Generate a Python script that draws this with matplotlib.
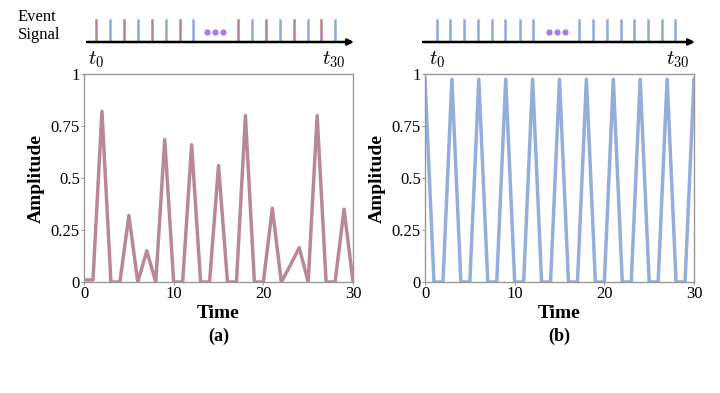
import numpy as np
import matplotlib.pyplot as plt

plt.rcParams['font.family'] = ['Liberation Serif', 'DejaVu Serif']
plt.rcParams['mathtext.fontset'] = 'cm'

# data
t = np.arange(0, 31)
amp_a = [0.01, 0.01, 0.82, 0, 0, 0.32, 0, 0.15, 0, 0.685, 0, 0, 0.66, 0, 0, 0.56,
         0, 0, 0.80, 0, 0, 0.355, 0, 0.08, 0.165, 0, 0.80, 0, 0, 0.35, 0]
amp_b = [0.975, 0, 0, 0.975, 0, 0, 0.975, 0, 0, 0.975, 0, 0, 0.975, 0, 0, 0.975,
         0, 0, 0.975, 0, 0, 0.975, 0, 0, 0.975, 0, 0, 0.975, 0, 0, 0.975]
yticks = [0, 0.25, 0.5, 0.75, 1]
yticklabels = ['0', '0.25', '0.5', '0.75', '1']
xticks = [0, 10, 20, 30]

# event marks (pixel positions in the schematic strip)
ev_a = [96, 110, 124, 138, 152, 166, 180, 193, 238, 252, 266, 280, 294, 308, 321, 335]
ev_b = [437, 450, 464, 478, 492, 505, 520, 533, 579, 593, 607, 621, 634, 648, 662, 675]

red = '#b48294'
blue = '#8eaad9'

fig = plt.figure(figsize=(7.2, 3.93), dpi=100)

def panel(left, y, col, label):
    ax = fig.add_axes([left, 0.2824, 0.3736, 0.5293])
    ax.plot(t, y, color=col, lw=2.5, alpha=0.95)
    ax.set_xlim(0, 30)
    ax.set_ylim(0, 1)
    ax.set_xticks(xticks)
    ax.set_yticks(yticks)
    ax.set_yticklabels(yticklabels)
    ax.tick_params(labelsize=12, length=2, width=0.6, color='#888888', pad=1)
    for s in ax.spines.values():
        s.set_color('#999999')
        s.set_linewidth(1.0)
    ax.set_xlabel('Time', fontsize=14, fontweight='bold', labelpad=2)
    ax.set_ylabel('Amplitude', fontsize=14, fontweight='bold', labelpad=4)
    ax.text(0.5, -0.22, label, transform=ax.transAxes, ha='center', va='top',
            fontsize=13, fontweight='bold')
    return ax

panel(0.1167, amp_a, red, '(a)')
panel(0.5903, amp_b, blue, '(b)')

# schematic strip on top
ov = fig.add_axes([0, 0, 1, 1], zorder=-1)
ov.set_xlim(0, 720)
ov.set_ylim(393, 0)
ov.axis('off')

for i, xp in enumerate(ev_a):
    ov.plot([xp, xp], [20, 41], color=red if i % 2 == 0 else blue, lw=1.8)
for xp in ev_b:
    ov.plot([xp, xp], [20, 41], color=blue, lw=1.8)

for x0, x1 in [(87, 354), (423, 695)]:
    ov.annotate('', xy=(x1, 42), xytext=(x0, 42),
                arrowprops=dict(arrowstyle='-|>', color='black', lw=1.8,
                                mutation_scale=9, shrinkA=0, shrinkB=0))

for xs in [(207, 215, 223), (549, 557, 565)]:
    ov.plot(xs, [32, 32, 32], 'o', color='#a77ee0', ms=3.5)

ov.text(88, 60, r'$t_0$', fontsize=15, ha='left', va='center')
ov.text(322, 60, r'$t_{30}$', fontsize=15, ha='left', va='center')
ov.text(429, 60, r'$t_0$', fontsize=15, ha='left', va='center')
ov.text(666, 60, r'$t_{30}$', fontsize=15, ha='left', va='center')
ov.text(18, 26, 'Event\nSignal', fontsize=12, ha='left', va='center', linespacing=1.2)

fig.savefig('out.png', dpi=100)
